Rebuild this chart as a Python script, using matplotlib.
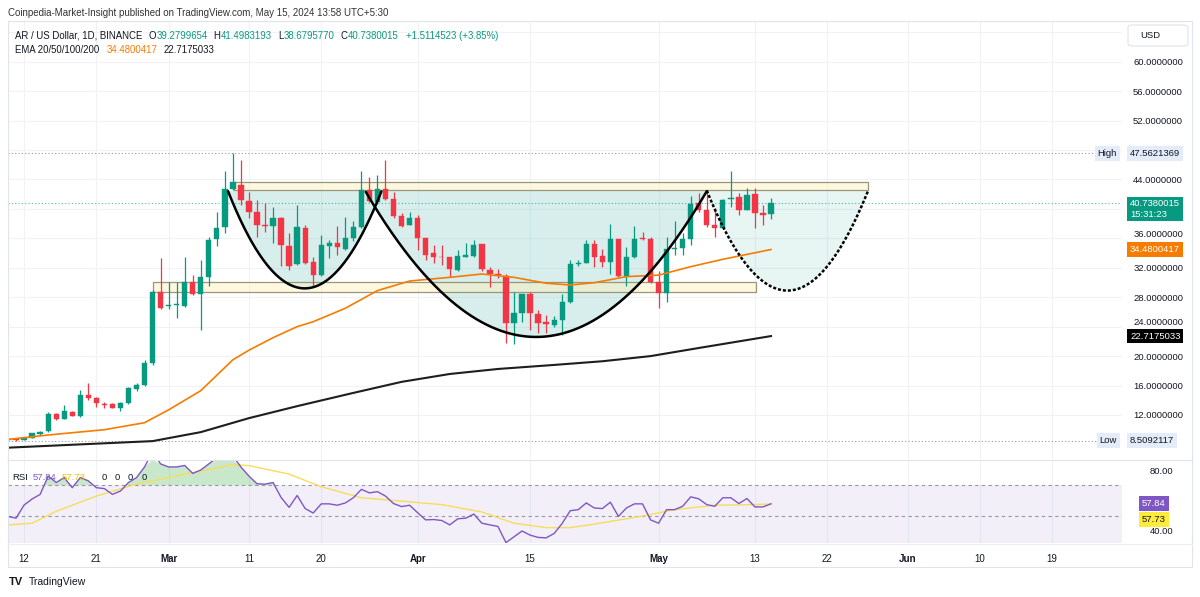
import numpy as np
import pandas as pd
import matplotlib
matplotlib.use('Agg')
import matplotlib.pyplot as plt
import matplotlib.dates as mdates
import matplotlib.transforms as mtransforms
from matplotlib.patches import Rectangle, FancyBboxPatch

plt.rcParams['font.family'] = ['Liberation Sans', 'DejaVu Sans']

W, H = 1200, 597

#######################################################
# Data: AR / USD daily candles (Feb 10 - May 15, 2024)
#######################################################
dates = pd.date_range('2024-02-10', '2024-05-15', freq='D')
opens = [8.75, 8.70, 8.60, 8.90, 9.40, 9.86, 12.10, 11.50, 12.45, 11.80,
         14.70, 14.26, 13.40, 13.45, 12.90, 13.60, 15.50, 16.10, 19.00, 28.75,
         26.80, 26.90, 26.85, 30.10, 28.50, 30.80, 35.90, 37.50, 42.70, 43.30,
         41.10, 39.60, 37.80, 37.70, 38.70, 34.96, 32.50, 37.45, 32.80, 31.00,
         35.00, 35.40, 34.50, 36.10, 37.50, 42.50, 41.00, 42.65, 41.30, 39.00,
         37.80, 38.80, 36.00, 34.00, 33.50, 33.40, 31.70, 33.40, 33.60, 35.20,
         31.70, 31.15, 30.90, 24.45, 25.90, 28.40, 25.70, 24.60, 24.20, 24.90,
         27.40, 32.50, 32.70, 35.20, 33.60, 32.80, 35.90, 30.90, 33.40, 35.95,
         35.90, 30.10, 28.60, 34.50, 34.70, 35.90, 40.75, 39.85, 37.80, 37.35,
         41.30, 41.60, 39.90, 42.00, 39.40, 39.28]
highs = [8.85, 8.80, 9.00, 9.60, 9.80, 12.45, 12.30, 13.35, 12.60, 15.40,
         16.40, 14.50, 13.80, 13.60, 13.75, 15.85, 16.30, 19.50, 29.00, 33.30,
         30.10, 30.10, 33.50, 31.00, 33.00, 36.20, 39.60, 45.20, 47.56, 46.60,
         42.30, 41.20, 40.80, 40.30, 38.90, 36.70, 40.50, 37.80, 33.50, 36.50,
         35.80, 37.70, 38.90, 38.30, 45.15, 44.30, 44.60, 46.60, 42.30, 39.40,
         39.60, 39.20, 36.00, 35.10, 35.10, 33.50, 34.40, 35.30, 35.80, 35.20,
         32.10, 31.90, 31.20, 28.75, 28.50, 28.75, 26.30, 25.60, 25.45, 28.50,
         33.05, 33.10, 35.80, 35.80, 34.60, 38.00, 35.90, 34.80, 37.70, 36.90,
         36.20, 31.50, 36.20, 38.30, 36.70, 41.70, 42.10, 42.60, 40.10, 41.40,
         45.10, 42.10, 42.80, 42.80, 40.50, 41.50]
lows = [8.60, 8.51, 8.55, 8.85, 9.30, 9.70, 11.30, 11.40, 11.80, 11.70,
        14.00, 13.10, 12.90, 12.90, 12.60, 13.50, 15.30, 15.90, 18.80, 26.40,
        26.40, 25.20, 26.70, 28.30, 23.60, 29.50, 34.90, 36.70, 42.50, 40.50,
        38.70, 36.20, 36.90, 35.30, 32.20, 31.70, 32.40, 32.50, 29.40, 30.90,
        33.30, 33.70, 34.40, 35.60, 37.40, 41.00, 40.60, 41.20, 38.70, 37.50,
        37.80, 34.40, 33.10, 32.60, 32.40, 30.80, 31.60, 33.40, 33.50, 31.60,
        29.40, 30.60, 21.80, 21.60, 24.70, 23.50, 23.10, 23.10, 24.00, 22.90,
        27.20, 32.20, 32.60, 32.10, 32.10, 31.20, 30.80, 29.50, 33.30, 35.80,
        29.90, 26.50, 27.40, 33.70, 33.70, 35.10, 39.60, 37.60, 36.20, 37.20,
        40.30, 39.20, 39.85, 37.40, 37.80, 38.68]
closes = [8.65, 8.62, 8.90, 9.50, 9.73, 12.10, 11.50, 12.50, 11.90, 14.70,
          14.26, 13.60, 13.35, 13.00, 13.60, 15.60, 16.10, 19.10, 28.75, 26.60,
          26.85, 27.00, 30.10, 28.50, 30.80, 35.80, 37.40, 42.70, 43.60, 41.20,
          39.60, 37.80, 37.70, 38.70, 35.10, 32.24, 37.50, 32.60, 31.00, 35.10,
          35.40, 34.80, 36.10, 37.50, 42.50, 41.10, 42.65, 41.30, 39.00, 37.70,
          38.70, 36.00, 33.80, 33.40, 33.40, 31.80, 33.60, 33.70, 35.10, 31.80,
          31.20, 31.00, 24.45, 25.90, 28.40, 25.80, 24.45, 24.35, 24.90, 27.40,
          32.50, 32.70, 35.20, 33.50, 32.80, 35.90, 30.90, 33.50, 35.90, 35.90,
          30.10, 28.60, 34.50, 34.70, 35.90, 40.60, 39.85, 37.80, 37.35, 41.20,
          41.50, 39.80, 41.90, 39.40, 39.20, 40.738]

# EMA lines
ema_orange_dates = ['2024-02-10', '2024-02-15', '2024-02-22', '2024-02-27', '2024-03-01',
                    '2024-03-05', '2024-03-09', '2024-03-11', '2024-03-14', '2024-03-17',
                    '2024-03-19', '2024-03-23', '2024-03-27', '2024-03-31', '2024-04-05',
                    '2024-04-09', '2024-04-13', '2024-04-17', '2024-04-20', '2024-04-23',
                    '2024-04-27', '2024-05-01', '2024-05-05', '2024-05-09', '2024-05-15']
ema_orange = [8.68, 9.28, 10.0, 10.95, 12.7, 15.3, 19.5, 20.8, 22.5, 24.0,
              24.67, 26.5, 28.9, 30.2, 30.7, 31.15, 30.7, 29.9, 29.66, 29.97,
              30.8, 31.0, 32.15, 33.15, 34.48]
ema_black_dates = ['2024-02-10', '2024-02-28', '2024-03-05', '2024-03-11', '2024-03-17',
                   '2024-03-24', '2024-03-30', '2024-04-05', '2024-04-11', '2024-04-18',
                   '2024-04-24', '2024-04-30', '2024-05-06', '2024-05-15']
ema_black = [7.56, 8.45, 9.67, 11.57, 13.2, 15.0, 16.5, 17.57, 18.25, 18.8,
             19.3, 20.0, 21.1, 22.72]

# RSI (one value per candle) and its moving average
rsi = [49.6, 48.4, 57, 61, 64, 76, 71.8, 75, 68.4, 75,
       72.9, 68.4, 67.8, 64, 66.2, 71.8, 75, 82, 92, 84,
       82, 82, 83, 77.8, 80, 84, 88, 90, 89, 82,
       76, 71, 70.7, 71.8, 62, 55.5, 63.3, 54.7, 51.8, 57.8,
       57.8, 56.9, 58.4, 61.8, 67.3, 65, 65.8, 62.9, 58, 56,
       56.9, 52, 47.3, 47.5, 46.9, 44, 48, 48.4, 51.1, 45.1,
       44, 43, 32.4, 36.2, 40, 37.3, 35.8, 35.5, 38.4, 45,
       53.3, 54, 58.4, 55.1, 54.7, 58.9, 49.6, 55.1, 57.8, 57.8,
       47.3, 45.1, 54, 54, 56.2, 62.4, 61.1, 57.3, 56.2, 61.8,
       61.8, 58, 61.3, 55.8, 55.8, 57.84]
rsi_ma_dates = ['2024-02-10', '2024-02-13', '2024-02-16', '2024-02-21', '2024-02-26',
                '2024-03-02', '2024-03-06', '2024-03-09', '2024-03-11', '2024-03-16',
                '2024-03-20', '2024-03-25', '2024-03-30', '2024-04-04', '2024-04-09',
                '2024-04-13', '2024-04-17', '2024-04-20', '2024-04-23', '2024-04-29',
                '2024-05-03', '2024-05-08', '2024-05-13', '2024-05-15']
rsi_ma = [44, 45.1, 52.9, 62.9, 70.7, 76.2, 80.3, 83.5, 82.9, 77.3,
          69, 61.8, 59.6, 57.3, 52.5, 45.1, 42.2, 42.2, 44.5, 49.8,
          54, 56.9, 57.3, 57.73]

# chart drawings (days after Feb 12): zones and cup arcs
upper_zone = (26.1, 105.1, 42.5, 43.7)     # start, end, low, high
lower_zone = (16.1, 91.1, 28.75, 30.1)
arcs = [(25.4, 44.5, 42.4, 29.2), (42.5, 85.0, 42.4, 22.6)]   # start, end, rim, bottom
arc_proj = (85.0, 105.1, 42.5, 28.9)

tick_dates = ['2024-02-12', '2024-02-21', '2024-03-01', '2024-03-11', '2024-03-20',
              '2024-04-01', '2024-04-15', '2024-05-01', '2024-05-13', '2024-05-22',
              '2024-06-01', '2024-06-10', '2024-06-19']
tick_labels = ['12', '21', 'Mar', '11', '20', 'Apr', '15', 'May', '13', '22', 'Jun', '10', '19']

price_ticks = [12, 16, 20, 24, 28, 32, 36, 44, 52, 56, 60]

#######################################################
# Figure
#######################################################
GREEN, RED = '#089981', '#f23645'
TXT = '#131722'
GRID = '#f0f2f6'

fig = plt.figure(figsize=(W / 100, H / 100), dpi=100)
fig.patch.set_facecolor('white')
renderer = fig.canvas.get_renderer()


def fx(px):
    return px / W


def fy(py):
    return 1 - py / H


L, R = 8, 1122
ax = fig.add_axes([fx(L), fy(459), fx(R) - fx(L), fy(22) - fy(459)])
ax_r = fig.add_axes([fx(L), fy(543), fx(R) - fx(L), fy(460) - fy(543)], sharex=ax)

t0 = mdates.date2num(pd.Timestamp('2024-02-12'))
xs = mdates.date2num(dates)
ticks = mdates.date2num(pd.to_datetime(tick_dates))

for a in (ax, ax_r):
    for s in a.spines.values():
        s.set_visible(False)
    for t in ticks:
        a.axvline(t, color=GRID, lw=0.8, zorder=0)
ax.set_xlim(t0 - 2.0, t0 + 136.7)
ax.set_ylim(6.02, 65.39)
ax_r.set_ylim(32.13, 86.56)

for v in range(12, 65, 4):
    ax.axhline(v, color=GRID, lw=0.8, zorder=0)

# price scale
ax.yaxis.tick_right()
ax.set_yticks(price_ticks)
ax.set_yticklabels([f'{v:.7f}' for v in price_ticks])
ax.tick_params(axis='y', length=0, pad=8, labelsize=6.8, labelcolor=TXT)
ax.tick_params(axis='x', length=0, labelbottom=False)
for lab in ax.get_yticklabels():
    if lab.get_text() in ('24.0000000', '36.0000000'):
        lab.set_transform(lab.get_transform() + mtransforms.ScaledTranslation(0, 3.5 / 72, fig.dpi_scale_trans))

# zones and cup drawings
g = np.linspace(arcs[0][0], arcs[1][1], 1200)
low_env = np.full_like(g, np.inf)
for d0, d1, rim, bot in arcs:
    mid, half = (d0 + d1) / 2, (d1 - d0) / 2
    yy = bot + (rim - bot) * ((g - mid) / half) ** 2
    inside = (g >= d0) & (g <= d1)
    low_env = np.where(inside, np.minimum(low_env, yy), low_env)
    ax.plot(t0 + g[inside], yy[inside], color='black', lw=1.8, zorder=7, solid_capstyle='round')
ax.fill_between(t0 + g, low_env, 42.5, color='#26a69a', alpha=0.18, lw=0, zorder=1)

d0, d1, rim, bot = arc_proj
gp = np.linspace(d0, d1, 300)
yp = bot + (rim - bot) * ((gp - (d0 + d1) / 2) / ((d1 - d0) / 2)) ** 2
ax.fill_between(t0 + gp, yp, rim, color='#26a69a', alpha=0.11, lw=0, zorder=1)
ax.plot(t0 + gp, yp, color='black', lw=1.8, ls=(0, (1.2, 0.8)), zorder=7)

for z0, z1, lo, hi in (upper_zone, lower_zone):
    ax.add_patch(Rectangle((t0 + z0, lo), z1 - z0, hi - lo, fc=(0.99, 0.94, 0.72, 0.45),
                           ec='#9b9678', lw=0.9, zorder=3))

# EMA lines
ax.plot(mdates.date2num(pd.to_datetime(ema_orange_dates)), ema_orange, color='#f57c00', lw=1.2, zorder=6)
ax.plot(mdates.date2num(pd.to_datetime(ema_black_dates)), ema_black, color='#1e1e1e', lw=1.5, zorder=6)

# candles
o, h, l, c = map(np.array, (opens, highs, lows, closes))
col = np.where(c >= o, GREEN, RED)
ax.vlines(xs, l, h, colors=col, lw=0.9, zorder=4)
ax.bar(xs, np.maximum(np.abs(c - o), 0.12), bottom=np.minimum(o, c), width=0.66,
       color=col, edgecolor=col, lw=0.3, zorder=5)

# high / low / last price lines
ax.axhline(47.5621369, color='#9598a1', lw=0.8, ls=(0, (1, 2)), zorder=2)
ax.axhline(8.5092117, color='#9598a1', lw=0.8, ls=(0, (1, 2)), zorder=2)
ax.axhline(40.7380015, color=GREEN, lw=0.8, ls=(0, (1, 2)), alpha=0.7, zorder=2)

# price scale value labels
bl = mtransforms.blended_transform_factory(ax.transAxes, ax.transData)
xl = (1130 - L) / (R - L)


def tag(a, tr, y, s, fc, tc, x=xl, dy=0, ha='left'):
    a.annotate(s, xy=(x, y), xycoords=tr, xytext=(0, dy), textcoords='offset points',
               ha=ha, va='center', fontsize=6.8, color=tc, linespacing=1.15,
               bbox=dict(boxstyle='square,pad=0.3', fc=fc, ec='none'), annotation_clip=False, zorder=10)


tag(ax, bl, 47.5621369, '47.5621369', '#e3ecf8', TXT)
tag(ax, bl, 47.5621369, 'High', '#e3ecf8', TXT, x=(1117 - L) / (R - L), ha='right')
tag(ax, bl, 8.5092117, '8.5092117', '#e3ecf8', TXT)
tag(ax, bl, 8.5092117, 'Low', '#e3ecf8', TXT, x=(1117 - L) / (R - L), ha='right')
tag(ax, bl, 40.7380015, '40.7380015\n15:31:23', GREEN, 'white', dy=-4)
tag(ax, bl, 34.4800417, '34.4800417', '#f57c00', 'white')
tag(ax, bl, 22.7175033, '22.7175033', '#000000', 'white')

# RSI panel
ax_r.axhspan(30, 70, color='#7e57c2', alpha=0.09, lw=0, zorder=0)
ax_r.axhline(70, color='#9598a1', lw=0.8, ls=(0, (3, 3)), zorder=1)
ax_r.axhline(50, color='#9598a1', lw=0.8, ls=(0, (3, 3)), zorder=1)
r = np.array(rsi, dtype=float)
ax_r.fill_between(xs, 70, np.minimum(r, 86.56), where=r > 70, interpolate=True,
                  color='#66bb6a', alpha=0.35, lw=0, zorder=1)
ax_r.plot(mdates.date2num(pd.to_datetime(rsi_ma_dates)), rsi_ma, color='#f7dd5a', lw=1.0, zorder=2)
ax_r.plot(xs, r, color='#7e57c2', lw=1.0, zorder=3)

ax_r.yaxis.tick_right()
ax_r.set_yticks([40, 80])
ax_r.set_yticklabels(['40.00', '80.00'])
ax_r.tick_params(axis='y', length=0, pad=20, labelsize=6.8, labelcolor=TXT)
blr = mtransforms.blended_transform_factory(ax_r.transAxes, ax_r.transData)
tag(ax_r, blr, 57.84, '57.84', '#7e57c2', 'white', x=(1142 - L) / (R - L))
tag(ax_r, blr, 57.73, '57.73', '#ffeb3b', TXT, x=(1142 - L) / (R - L), dy=-11)

ax_r.set_xticks(ticks)
ax_r.set_xticklabels(tick_labels)
ax_r.tick_params(axis='x', length=0, pad=8, labelsize=7, labelcolor=TXT)
for lab in ax_r.get_xticklabels():
    if lab.get_text() in ('Mar', 'Apr', 'May', 'Jun'):
        lab.set_fontweight('bold')

# frame and separators
fig.add_artist(Rectangle((fx(8), fy(567)), fx(1192) - fx(8), fy(21) - fy(567),
                         transform=fig.transFigure, fill=False, ec='#e0e3eb', lw=0.8))
fig.add_artist(plt.Line2D([fx(8), fx(1192)], [fy(459.5), fy(459.5)], transform=fig.transFigure,
                          color='#e0e3eb', lw=0.8))
fig.add_artist(plt.Line2D([fx(8), fx(1192)], [fy(543.5), fy(543.5)], transform=fig.transFigure,
                          color='#eceef2', lw=0.8))


def ftext(px, py, s, **kw):
    kw.setdefault('fontsize', 7)
    kw.setdefault('color', TXT)
    return fig.text(fx(px), fy(py), s, va='center', ha='left', **kw)


def text_row(px, py, pieces, size):
    # pieces: (text, colour, gap after in px)
    for s, cl, gap in pieces:
        t = ftext(px, py, s, color=cl, fontsize=size)
        px = t.get_window_extent(renderer).x1 + gap


ftext(8, 13, 'Coinpedia-Market-Insight published on TradingView.com, May 15, 2024 13:58 UTC+5:30',
      fontsize=7, color='#333333')

# legend lines
text_row(15, 36, [('AR / US Dollar, 1D, BINANCE', TXT, 6), ('O', TXT, 0.5), ('39.2799654', GREEN, 6),
                  ('H', TXT, 0.5), ('41.4983193', GREEN, 6), ('L', TXT, 0.5), ('38.6795770', GREEN, 6),
                  ('C', TXT, 0.5), ('40.7380015', GREEN, 7), ('+1.5114523 (+3.85%)', GREEN, 0)], 6.9)
text_row(15, 50, [('EMA 20/50/100/200', TXT, 7), ('34.4800417', '#f57c00', 6), ('22.7175033', TXT, 0)], 6.9)
text_row(12, 477, [('RSI', TXT, 5), ('57.84', '#7e57c2', 5), ('57.73', '#e6c700', 16),
                   ('0', TXT, 8), ('0', TXT, 8), ('0', TXT, 8), ('0', TXT, 0)], 6.8)

# USD box
fig.add_artist(FancyBboxPatch((fx(1128), fy(46)), fx(1188) - fx(1128), fy(25) - fy(46),
                              boxstyle='round,pad=0,rounding_size=0.004', transform=fig.transFigure,
                              fc='white', ec='#e0e3eb', lw=0.8))
ftext(1140, 36, 'USD', fontsize=6.8)

# footer
ftext(9, 582, 'TV', fontsize=8, fontweight='bold')
ftext(29, 582, 'TradingView', fontsize=7.5)

fig.savefig('out.png', dpi=100, facecolor='white')
